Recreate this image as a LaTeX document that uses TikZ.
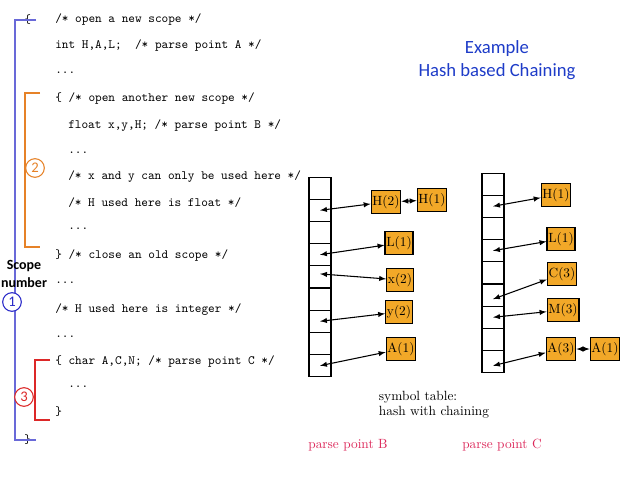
\documentclass[tikz,border=0pt]{standalone}
\usepackage{fontspec}
\newfontfamily\sansfam{Carlito}
\definecolor{scopeblue}{RGB}{40,40,200}
\definecolor{scopeorange}{RGB}{230,130,40}
\definecolor{scopered}{RGB}{220,40,40}
\definecolor{entryfill}{RGB}{242,168,40}
\definecolor{titleblue}{RGB}{30,60,200}
\definecolor{parsered}{RGB}{220,40,90}
\usetikzlibrary{positioning}
\usetikzlibrary{calc}
\newcommand{\cellh}{22.2}
\tikzset{
    code/.style={anchor=west, inner sep=0pt, font=\ttfamily\fontsize{9.5}{12}\selectfont},
    entry/.style={draw, thick, fill=entryfill, minimum width=17pt, minimum height=17pt, inner sep=1pt, font=\fontsize{10}{11}\selectfont},
    cell/.style={draw, thick, minimum width=16.5pt, minimum height=16.6pt, inner sep=0pt},
    link/.style={<->, >={latex[scale=1.3]}, thick},
    scopenum/.style={draw, circle, thick, inner sep=0pt, minimum size=14pt, font=\sansfam\fontsize{11}{11}\selectfont},
    bracket/.style={thick}
}
\begin{document}
\begin{tikzpicture}[x=0.75pt, y=-0.75pt]
    \useasboundingbox (0,0) rectangle (638,478);
    % code lines
    \node[code] (l1) at (55,20) {/* open a new scope */};
    \node[code] (l2) at (55,46) {int H,A,L;~ /* parse point A */};
    \node[code] (l3) at (55,73) {...};
    \node[code] (l4) at (55,99) {\{ /* open another new scope */};
    \node[code] (l5) at (68,126) {float x,y,H; /* parse point B */};
    \node[code] (l6) at (68,153) {...};
    \node[code] (l7) at (68,177) {/* x and y can only be used here */};
    \node[code] (l8) at (68,203) {/* H used here is float */};
    \node[code] (l9) at (68,229) {...};
    \node[code] (l10) at (55,256) {\} /* close an old scope */};
    \node[code] (l11) at (55,283) {...};
    \node[code] (l12) at (55,310) {/* H used here is integer */};
    \node[code] (l13) at (55,337) {...};
    \node[code] (l14) at (55,362) {\{ char A,C,N; /* parse point C */};
    \node[code] (l15) at (68,387) {...};
    \node[code] (l16) at (55,412) {\}};
    \node[code] (l0) at (24,20) {\{};
    \node[code] (l17) at (24,440) {\}};

    % scope brackets
    \draw[bracket, scopeblue!70] (36,20) -- (15,20) -- (15,440) -- (36,440);
    \draw[bracket, scopeorange] (40,93) -- (25,93) -- (25,247) -- (40,247);
    \draw[bracket, scopered] (50,360) -- (35,360) -- (35,420) -- (50,420);
    \node[scopenum, scopeblue, fill=white] (s1) at (12,302) {1};
    \node[scopenum, scopeorange, fill=white] (s2) at (35,168) {2};
    \node[scopenum, scopered, fill=white] (s3) at (24,397) {3};
    \node[font=\sansfam\bfseries\fontsize{10.5}{13}\selectfont, align=center, inner sep=0pt] (lbl) at (24,274) {Scope\\number};

    % title
    \node[font=\sansfam\fontsize{14}{17}\selectfont, text=titleblue, align=center] (title) at (497,60) {Example\\Hash based Chaining};

    % hash tables
    \foreach \i in {1,...,9} {
        \node[cell] (b\i) at (320,{177+\cellh*(\i-0.5)}) {};
        \node[cell] (c\i) at (493,{173+\cellh*(\i-0.5)}) {};
    }

    % parse point B
    \node[entry] (bH2) at (386,202) {H(2)};
    \node[entry] (bH1) at (432,200) {H(1)};
    \node[entry] (bL1) at (399,243) {L(1)};
    \node[entry] (bx2) at (400,280) {x(2)};
    \node[entry] (by2) at (399,312) {y(2)};
    \node[entry] (bA1) at (401,349) {A(1)};
    \draw[link] (b2.center) -- (bH2);
    \draw[link] (bH2) -- (bH1);
    \draw[link] (b4.center) -- (bL1);
    \draw[link] ($(b5.center)+(0,-3)$) -- (bx2);
    \draw[link] (b7.center) -- (by2);
    \draw[link] (b9.center) -- (bA1);

    % parse point C
    \node[entry] (cH1) at (556,195) {H(1)};
    \node[entry] (cL1) at (561,239) {L(1)};
    \node[entry] (cC3) at (562,274) {C(3)};
    \node[entry] (cM3) at (563,310) {M(3)};
    \node[entry] (cA3) at (561,349) {A(3)};
    \node[entry] (cA1) at (605,349) {A(1)};
    \draw[link] (c2.center) -- (cH1);
    \draw[link] (c4.center) -- (cL1);
    \draw[link] ($(c6.center)+(0,4)$) -- (cC3);
    \draw[link] (c7.center) -- (cM3);
    \draw[link] ($(c9.center)+(0,4)$) -- (cA3);
    \draw[link] (cA3) -- (cA1);

    % captions
    \node[font=\fontsize{10}{11}\selectfont, align=left] (cap) at (434,405) {symbol table:\\hash with chaining};
    \node[font=\fontsize{10}{11}\selectfont, text=parsered] (ppB) at (348,445) {parse point B};
    \node[font=\fontsize{10}{11}\selectfont, text=parsered] (ppC) at (502,445) {parse point C};
\end{tikzpicture}
\end{document}
